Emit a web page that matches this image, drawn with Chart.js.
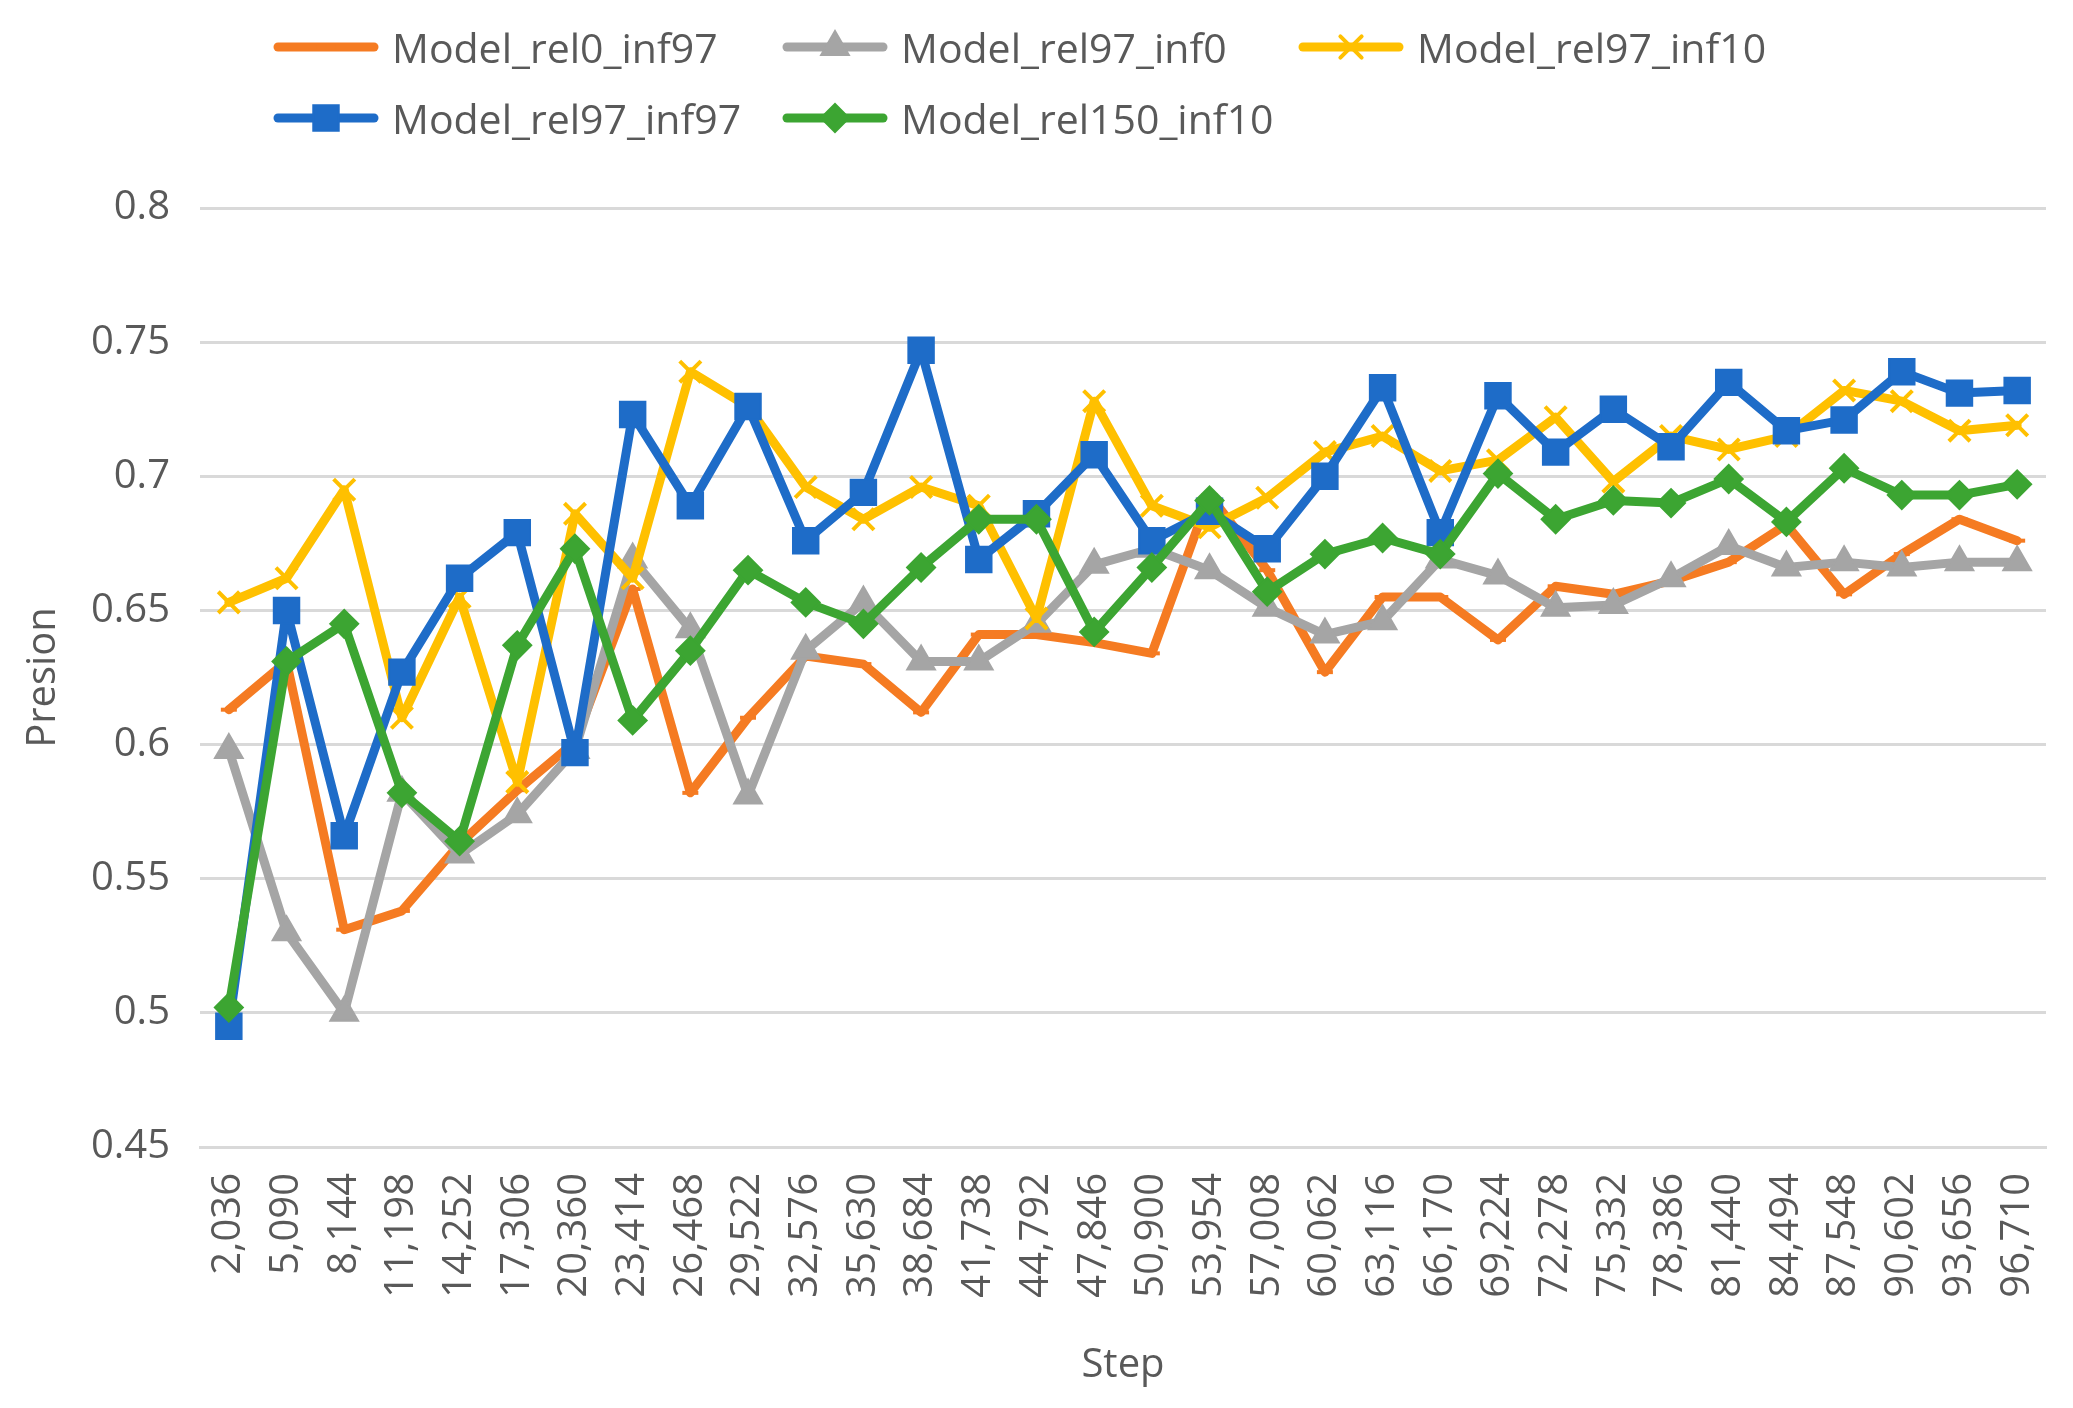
<!DOCTYPE html>
<html>
<head>
<meta charset="utf-8">
<script src="https://cdn.jsdelivr.net/npm/chart.js@4.4.1/dist/chart.umd.min.js"></script>
<style>
    html, body { margin: 0; padding: 0; background: #fff; }
    #contenedor { position: relative; width: 2073px; height: 1408px; }
    #grafico { position: absolute; left: 0; top: 0; }
    .leyenda {
        position: absolute;
        display: flex;
        align-items: center;
        height: 44px;
        font-family: "Open Sans", sans-serif;
        font-size: 41px;
        color: #595959;
        white-space: nowrap;
    }
    .leyenda canvas { margin-right: 12px; }
</style>
</head>
<body>
<div id="contenedor">
    <canvas id="grafico" width="2073" height="1408"></canvas>
</div>
<script>
const steps = ['2,036', '5,090', '8,144', '11,198', '14,252', '17,306', '20,360', '23,414',
    '26,468', '29,522', '32,576', '35,630', '38,684', '41,738', '44,792', '47,846',
    '50,900', '53,954', '57,008', '60,062', '63,116', '66,170', '69,224', '72,278',
    '75,332', '78,386', '81,440', '84,494', '87,548', '90,602', '93,656', '96,710'];

const rel0Inf97 = [0.613, 0.631, 0.531, 0.538, 0.563, 0.583, 0.601, 0.658, 0.582, 0.610, 0.633, 0.630,
    0.612, 0.641, 0.641, 0.638, 0.634, 0.693, 0.665, 0.627, 0.655, 0.655, 0.639, 0.659,
    0.656, 0.661, 0.668, 0.682, 0.656, 0.671, 0.684, 0.676];

const rel97Inf0 = [0.598, 0.530, 0.500, 0.582, 0.559, 0.574, 0.598, 0.669, 0.643, 0.581, 0.635, 0.653,
    0.631, 0.631, 0.645, 0.667, 0.673, 0.665, 0.651, 0.641, 0.646, 0.669, 0.663, 0.651,
    0.652, 0.662, 0.674, 0.666, 0.668, 0.666, 0.668, 0.668];

const rel97Inf10 = [0.653, 0.662, 0.695, 0.610, 0.655, 0.586, 0.686, 0.662, 0.739, 0.726, 0.696, 0.684,
    0.696, 0.689, 0.647, 0.728, 0.689, 0.681, 0.692, 0.709, 0.715, 0.702, 0.706, 0.722,
    0.698, 0.715, 0.710, 0.715, 0.732, 0.728, 0.717, 0.719];

const rel97Inf97 = [0.495, 0.650, 0.566, 0.627, 0.662, 0.679, 0.597, 0.723, 0.689, 0.726, 0.676, 0.694,
    0.747, 0.669, 0.686, 0.708, 0.676, 0.687, 0.673, 0.700, 0.733, 0.679, 0.730, 0.709,
    0.725, 0.711, 0.735, 0.717, 0.721, 0.739, 0.731, 0.732];

const rel150Inf10 = [0.502, 0.631, 0.645, 0.582, 0.564, 0.637, 0.673, 0.609, 0.635, 0.665, 0.653, 0.645,
    0.666, 0.684, 0.684, 0.642, 0.666, 0.691, 0.657, 0.671, 0.677, 0.671, 0.701, 0.684,
    0.691, 0.690, 0.699, 0.683, 0.703, 0.693, 0.693, 0.697];

const series = [
    { label: 'Model_rel0_inf97', data: rel0Inf97, color: '#F57B22', style: 'line', radius: 8, bw: 4 },
    { label: 'Model_rel97_inf0', data: rel97Inf0, color: '#A5A5A5', style: 'triangle', radius: 16, bw: 2 },
    { label: 'Model_rel97_inf10', data: rel97Inf10, color: '#FFC000', style: 'crossRot', radius: 15, bw: 4 },
    { label: 'Model_rel97_inf97', data: rel97Inf97, color: '#1E6CC8', style: 'rect', radius: 18, bw: 2 },
    { label: 'Model_rel150_inf10', data: rel150Inf10, color: '#3CA532', style: 'rectRot', radius: 14, bw: 2 }
];

const gris = '#595959';
const fuente = { family: '"Open Sans", sans-serif', size: 40 };

const ctx = document.getElementById('grafico').getContext('2d');
const grafico = new Chart(ctx, {
    type: 'line',
    data: {
        labels: steps,
        datasets: series.map((s, i) => ({
            label: s.label,
            data: s.data,
            borderColor: s.color,
            backgroundColor: s.color,
            borderWidth: 9,
            borderJoinStyle: 'round',
            borderCapStyle: 'round',
            pointStyle: s.style,
            pointRadius: s.radius,
            pointBorderWidth: s.bw,
            pointBackgroundColor: s.color,
            pointBorderColor: s.color,
            tension: 0,
            order: series.length - i
        }))
    },
    options: {
        responsive: false,
        animation: false,
        devicePixelRatio: 1,
        layout: { padding: { top: 208, right: 27, left: 0, bottom: 0 } },
        plugins: {
            legend: { display: false },
            tooltip: { enabled: false }
        },
        scales: {
            x: {
                offset: true,
                grid: { display: false, drawTicks: false },
                border: { display: true, color: '#D9D9D9', width: 3 },
                ticks: {
                    color: gris,
                    font: fuente,
                    padding: 26,
                    minRotation: 90,
                    maxRotation: 90,
                    autoSkip: false
                },
                title: {
                    display: true,
                    text: 'Step',
                    color: gris,
                    font: fuente,
                    padding: { top: 0, bottom: 18 }
                },
                afterFit: scale => {
                    scale.height = 261;
                    scale.paddingLeft = 0;
                    scale.paddingRight = 0;
                }
            },
            y: {
                min: 0.45,
                max: 0.8,
                grid: { color: '#D9D9D9', lineWidth: 3, drawTicks: false },
                border: { display: false },
                ticks: {
                    stepSize: 0.05,
                    color: gris,
                    font: fuente,
                    padding: 30,
                    callback: v => String(+v.toFixed(2))
                },
                title: {
                    display: true,
                    text: 'Presion',
                    color: gris,
                    font: fuente,
                    padding: { top: 20, bottom: 0 }
                },
                afterFit: scale => { scale.width = 200; }
            }
        }
    }
});

// Leyenda en dos filas con columnas fijas, como en la figura original
const columnas = [272, 781, 1297];
const filas = [47, 118];
const contenedor = document.getElementById('contenedor');

grafico.data.datasets.forEach((ds, i) => {
    const item = document.createElement('div');
    item.className = 'leyenda';
    item.style.left = columnas[i % 3] + 'px';
    item.style.top = (filas[Math.floor(i / 3)] - 22) + 'px';

    const muestra = document.createElement('canvas');
    muestra.width = 108;
    muestra.height = 44;
    const c = muestra.getContext('2d');
    c.strokeStyle = ds.borderColor;
    c.fillStyle = ds.borderColor;
    c.lineWidth = 9;
    c.lineCap = 'round';
    c.beginPath();
    c.moveTo(6, 22);
    c.lineTo(102, 22);
    c.stroke();
    if (Chart.helpers && Chart.helpers.drawPoint) {
        c.lineWidth = ds.pointBorderWidth;
        Chart.helpers.drawPoint(c, {
            pointStyle: ds.pointStyle,
            radius: ds.pointRadius,
            rotation: 0,
            borderWidth: ds.pointBorderWidth
        }, 54, 22);
    }

    const texto = document.createElement('span');
    texto.textContent = ds.label;

    item.appendChild(muestra);
    item.appendChild(texto);
    contenedor.appendChild(item);
});
</script>
</body>
</html>
